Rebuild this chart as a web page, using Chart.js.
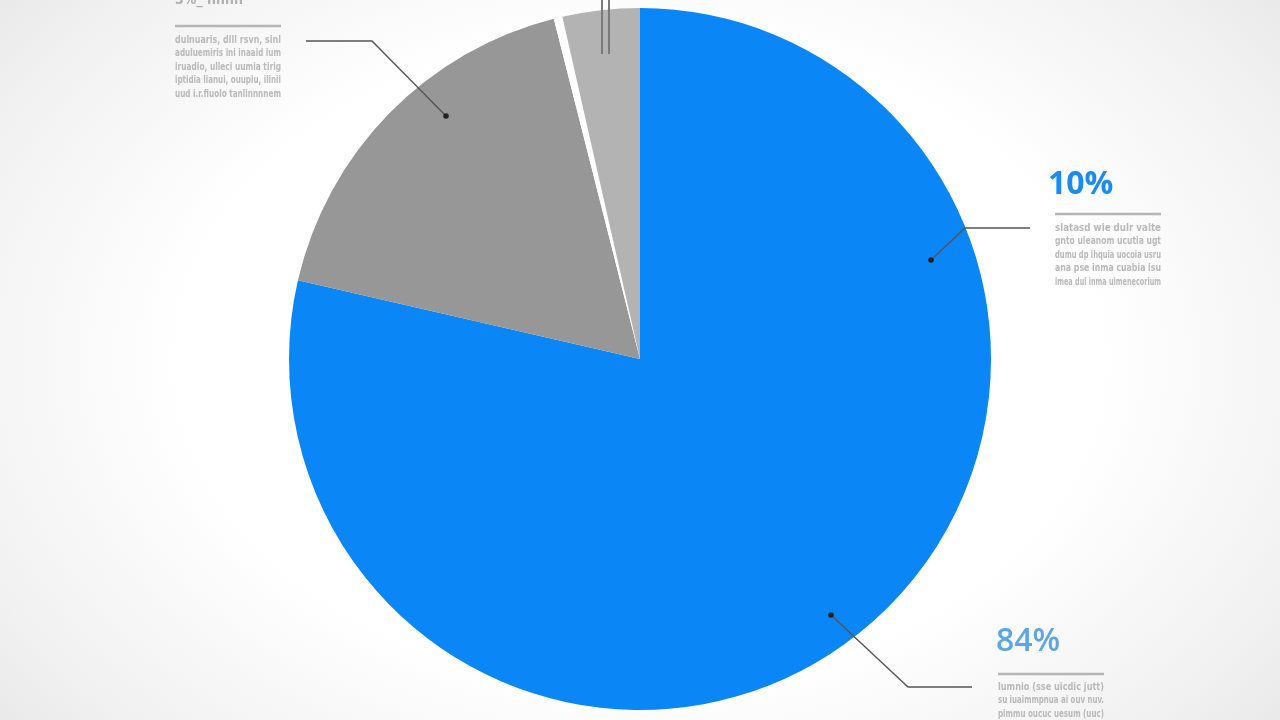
<!DOCTYPE html>
<html>
<head>
<meta charset="utf-8">
<script src="https://cdn.jsdelivr.net/npm/chart.js@4.4.1/dist/chart.umd.min.js"></script>
<style>
  html, body { margin:0; padding:0; width:1280px; height:720px; overflow:hidden;
    background: radial-gradient(ellipse 72% 90% at 50% 50%, #ffffff 50%, #f1f1f1 78%, #e2e2e2 100%); }
  #wrap { position:absolute; left:0; top:0; width:1280px; height:720px; }
</style>
</head>
<body>
<div id="wrap"><canvas id="c" width="1280" height="720"></canvas></div>
<script>
// ---- data ----
const sliceLabels = ['Blue share', 'Gray share', 'Gap', 'Light gray share'];
const sliceValues = [78.6, 17.45, 0.4, 3.55];
const sliceColors = ['#0a86f7', '#979797', '#ffffff', '#b3b3b3'];

const calloutValues = ['10%', '84%', ''];
const fillerLines = [
  ['slatasd wie dulr valte', 'gnto uleanom ucutia ugt', 'dumu dp ihquia uocoia usru', 'ana pse inma cuabia isu', 'imea dul inma uimenecorium'],
  ['lumnio (sse uicdic jutt)', 'su iuaimmpnua ai ouv nuv.', 'pimmu oucuc uesum (uuc)'],
  ['dulnuaris, dlll rsvn, sinl', 'aduluemiris ini inaaid ium', 'iruadio, ulleci uumia tirig', 'iptidia lianui, ouupiu, ilinii', 'uud i.r.fiuolo tanlinnnnem']
];

const overlay = {
  id: 'overlay',
  afterDraw(chart) {
    const ctx = chart.ctx;
    ctx.save();
    // leader lines
    ctx.strokeStyle = '#555';
    ctx.lineWidth = 1.4;
    const leaders = [
      [[931, 260], [965, 228], [1030, 228]],
      [[831, 615], [908, 687], [972, 687]],
      [[446, 116], [372, 41], [306, 41]]
    ];
    leaders.forEach(pts => {
      ctx.beginPath();
      ctx.moveTo(pts[0][0], pts[0][1]);
      for (let i = 1; i < pts.length; i++) ctx.lineTo(pts[i][0], pts[i][1]);
      ctx.stroke();
      ctx.fillStyle = '#222';
      ctx.beginPath(); ctx.arc(pts[0][0], pts[0][1], 2.8, 0, Math.PI * 2); ctx.fill();
    });
    // top vertical lines
    ctx.strokeStyle = '#7a7a7a';
    ctx.lineWidth = 2;
    [602, 609].forEach(x => { ctx.beginPath(); ctx.moveTo(x, 0); ctx.lineTo(x, 54); ctx.stroke(); });

    // value labels
    ctx.textBaseline = 'middle';
    ctx.textAlign = 'left';
    ctx.fillStyle = '#1a8cf0';
    ctx.font = 'bold 32px "Open Sans", "DejaVu Sans", sans-serif';
    ctx.fillText(calloutValues[0], 1048, 185);
    ctx.fillStyle = '#5aa6e8';
    ctx.font = '600 32px "Open Sans", "DejaVu Sans", sans-serif';
    ctx.fillText(calloutValues[1], 996, 642);

    // rules
    ctx.strokeStyle = '#b5b5b5';
    ctx.lineWidth = 2.5;
    const blocks = [
      { x: 1055, rule: 214, y0: 228, w: 106 },
      { x: 998, rule: 674, y0: 687, w: 106 },
      { x: 175, rule: 26, y0: 40, w: 106 }
    ];
    blocks.forEach((b, i) => {
      ctx.beginPath(); ctx.moveTo(b.x, b.rule); ctx.lineTo(b.x + b.w, b.rule); ctx.stroke();
      ctx.fillStyle = '#b9b9b9';
      ctx.font = 'bold 10px "DejaVu Sans Condensed", "DejaVu Sans", sans-serif';
      fillerLines[i].forEach((t, j) => {
        ctx.fillText(t, b.x, b.y0 + j * 13.5, b.w);
      });
    });
    // clipped heading at top left
    ctx.fillStyle = '#b0b0b0';
    ctx.font = 'bold 14px "DejaVu Sans Condensed", sans-serif';
    ctx.fillText('3%_ nnnn', 175, 0, 115);
    ctx.restore();
  }
};

new Chart(document.getElementById('c'), {
  type: 'pie',
  data: {
    labels: sliceLabels,
    datasets: [{ data: sliceValues, backgroundColor: sliceColors, borderWidth: 0, hoverOffset: 0 }]
  },
  options: {
    responsive: false,
    animation: false,
    layout: { padding: { top: 8, bottom: 10, left: 0, right: 0 } },
    plugins: { legend: { display: false }, tooltip: { enabled: false } }
  },
  plugins: [overlay]
});
</script>
</body>
</html>
